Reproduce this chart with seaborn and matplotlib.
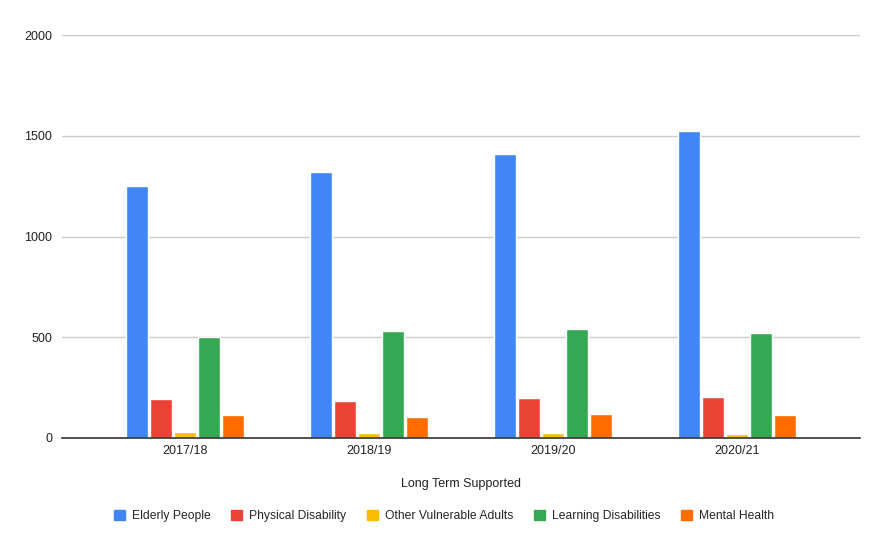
import pandas as pd
import seaborn as sns
import matplotlib.pyplot as plt

years = ["2017/18", "2018/19", "2019/20", "2020/21"]
groups = ["Elderly People", "Physical Disability", "Other Vulnerable Adults",
          "Learning Disabilities", "Mental Health"]
elderly = [1250, 1320, 1408, 1526]
physical = [195, 185, 200, 205]
other_vulnerable = [31, 26, 26, 21]
learning = [501, 531, 541, 521]
mental = [115, 106, 120, 115]
colors = ["#4285F4", "#EA4335", "#FBBC04", "#34A853", "#FF6D01"]

series = [elderly, physical, other_vulnerable, learning, mental]
rows = []
for name, vals in zip(groups, series):
    for yr, v in zip(years, vals):
        rows.append({"year": yr, "group": name, "value": v})
df = pd.DataFrame(rows)

sns.set_style("white")
plt.rcParams['font.family'] = ['Liberation Sans', 'DejaVu Sans']

fig = plt.figure(figsize=(8.88, 5.5), dpi=100)
ax = fig.add_axes([62 / 888, 1 - 438 / 550, (860 - 62) / 888, (438 - 35) / 550])

sns.barplot(data=df, x="year", y="value", hue="group", hue_order=groups,
            palette=colors, width=0.65, gap=0.08, saturation=1,
            errorbar=None, ax=ax)

ax.set_ylim(0, 2000)
ax.set_xlim(-0.668, 3.668)
ax.set_yticks([0, 500, 1000, 1500, 2000])
ax.yaxis.grid(True, color="#cccccc", linewidth=1)
ax.set_axisbelow(True)
for s in ["left", "right", "top"]:
    ax.spines[s].set_visible(False)
ax.spines["bottom"].set_color("#333333")
ax.spines["bottom"].set_linewidth(1.2)
ax.tick_params(axis="both", length=0, labelsize=9, colors="#222222")
ax.tick_params(axis="y", pad=7)
ax.tick_params(axis="x", pad=5)
ax.set_ylabel("")
ax.set_xlabel("Long Term Supported", fontsize=9, color="#222222", labelpad=15)

ax.get_legend().remove()
handles = [plt.Rectangle((0, 0), 1, 1, color=c) for c in colors]
fig.legend(handles, groups, loc="center", bbox_to_anchor=(0.5, 1 - 516 / 550),
           ncol=5, frameon=False, fontsize=8.7, handlelength=0.9, handleheight=0.9,
           handletextpad=0.6, columnspacing=1.7)

fig.savefig("out.png", dpi=100)
